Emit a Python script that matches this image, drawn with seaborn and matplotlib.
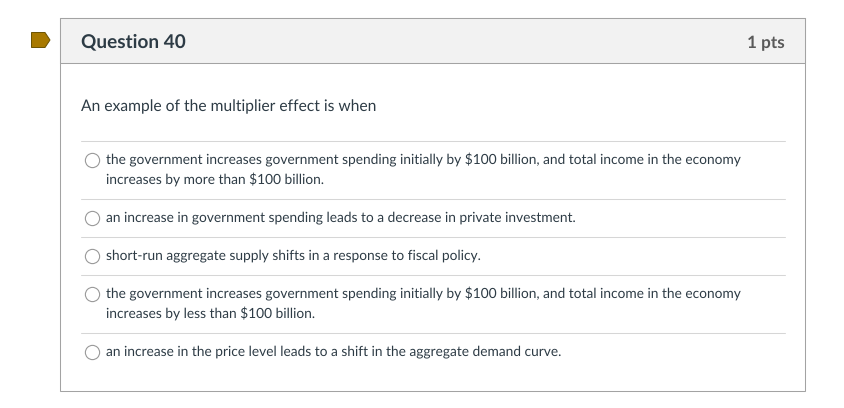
import pandas as pd
import matplotlib.pyplot as plt
from matplotlib.patches import Polygon, Rectangle
import seaborn as sns

title = "Question 40"
points = "1 pts"
question = "An example of the multiplier effect is when"
options = [
    ["the government increases government spending initially by $100 billion, and total income in the economy",
     "increases by more than $100 billion."],
    ["an increase in government spending leads to a decrease in private investment."],
    ["short-run aggregate supply shifts in a response to fiscal policy."],
    ["the government increases government spending initially by $100 billion, and total income in the economy",
     "increases by less than $100 billion."],
    ["an increase in the price level leads to a shift in the aggregate demand curve."],
]
radio_rows = [160, 218, 256, 294, 352]
rule_rows = [141, 199, 237, 275, 333]

sns.set_theme(style="white")
plt.rcParams['font.family'] = ['Lato', 'DejaVu Sans']
plt.rcParams['text.hinting'] = 'no_hinting'

fig = plt.figure(figsize=(8.45, 4.08), dpi=100)
ax = fig.add_axes([0, 0, 1, 1])

# card and header
ax.add_patch(Rectangle((60.5, 18), 745, 373, fc='white', ec='#a3a3a3', lw=0.75))
ax.add_patch(Rectangle((60.5, 18), 745, 45, fc='#f2f2f2', ec='#a3a3a3', lw=0.75))

# flag marker
ax.add_patch(Polygon([(31.5, 32.5), (45, 32.5), (50, 40), (45, 47.5), (31.5, 47.5)],
                     fc='#a87900', ec='#6b5200', lw=0.7))

ax.text(81, 42, title, fontsize=13.7, fontweight='bold', color='#2d3b45', va='center')
ax.text(785, 43, points, fontsize=12.3, fontweight='bold', color='#5a5a5a', va='center', ha='right')
ax.text(81, 106.5, question, fontsize=11.27, color='#2d3b45', va='center')

for y in rule_rows:
    ax.plot([81, 785], [y, y], color='#d6d6d6', lw=0.75)

radios = pd.DataFrame({'x': [92] * len(radio_rows), 'y': radio_rows})
sns.scatterplot(data=radios, x='x', y='y', ax=ax, s=105, marker='o',
                facecolor='white', edgecolor='#9a9a9a', linewidth=0.8, legend=False)
ax.set_xlim(0, 845)
ax.set_ylim(408, 0)
ax.axis('off')

for y, lines in zip(radio_rows, options):
    for i, line in enumerate(lines):
        ax.text(106, y - 0.5 + i * 20, line, fontsize=9.95, color='#2d3b45', va='center')

fig.savefig('out.png', dpi=100)
